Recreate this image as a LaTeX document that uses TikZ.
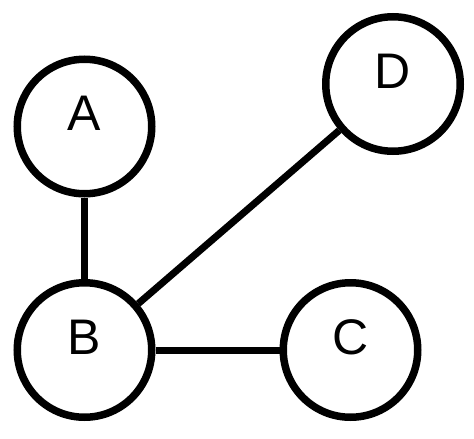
\documentclass[tikz,border=0pt]{standalone}
\usepackage{fontspec}
\setsansfont{Liberation Sans}
\usetikzlibrary{positioning}

\begin{document}
\begin{tikzpicture}[
    x=1pt, y=1pt,
    vertex/.style={circle, draw, line width=7.5pt, minimum size=134.5pt, inner sep=0pt,
        font=\sffamily\fontsize{50}{50}\selectfont, text height=36pt, text depth=28pt},
    edge/.style={line width=7pt}
]
\useasboundingbox (0,0) rectangle (474,-439);
\node[vertex] (A) at (84.5,-126.5) {A};
\node[vertex, below=81.5pt of A] (B) {B};
\node[vertex, right=124pt of B] (C) {C};
\node[vertex] (D) at (393,-84) {D};

\draw[edge] (A) -- (B);
\draw[edge] (B) -- (C);
\draw[edge] (B) -- (D);
\end{tikzpicture}
\end{document}
